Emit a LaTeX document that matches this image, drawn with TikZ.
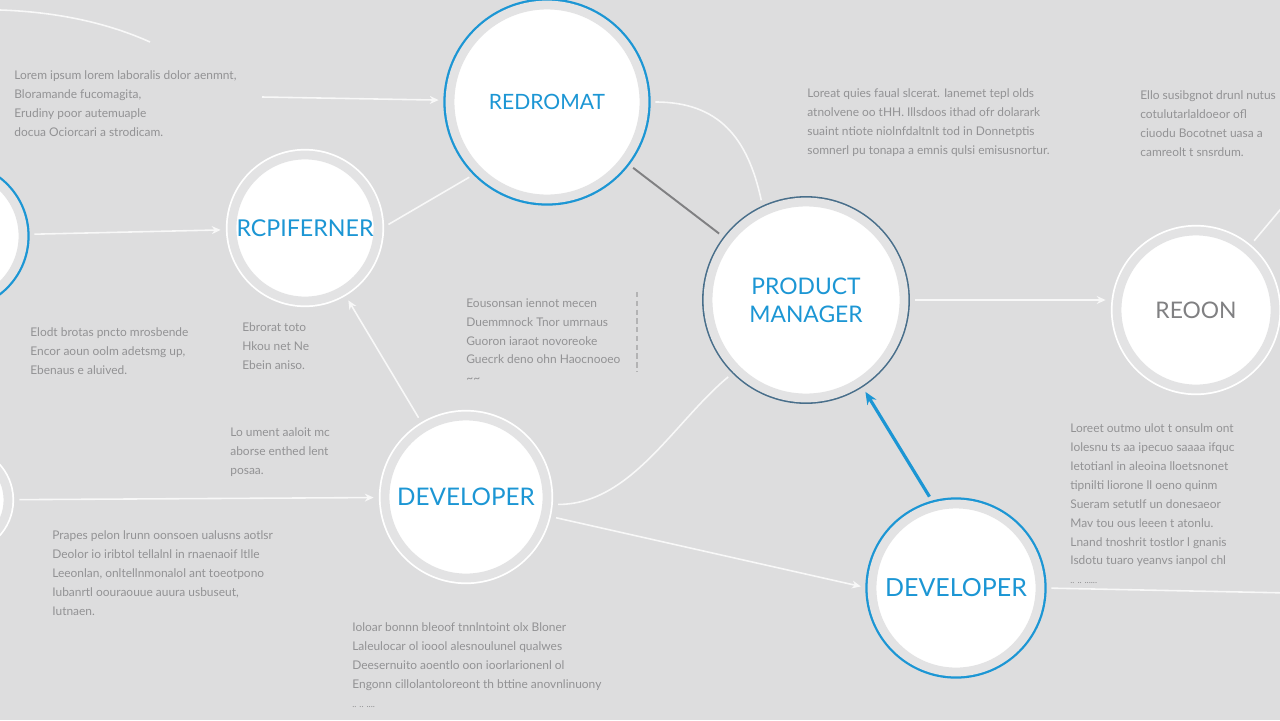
\documentclass[tikz,border=0pt]{standalone}
\usepackage{fontspec}
\setmainfont{Lato}
\usetikzlibrary{arrows.meta,shadows}
\definecolor{rmBack} {RGB}{221,221,222}
\definecolor{rmBlue} {RGB}{ 28,150,212}
\definecolor{rmSlate}{RGB}{ 72,110,138}
\definecolor{rmRing} {RGB}{227,227,228}
\definecolor{rmText} {RGB}{146,146,148}
\definecolor{rmLine} {RGB}{248,248,248}
\definecolor{rmGrey} {RGB}{128,128,130}

\begin{document}
\begin{tikzpicture}[x=0.02cm,y=-0.02cm,
  every node/.style={font=\small},
  bubble/.style={circle,fill=white,draw=rmRing,line width=5pt,inner sep=0pt,
                 align=center,text=rmBlue,font=\fontsize{13}{16}\selectfont},
  rimBlue/.style={preaction={draw=rmBlue,line width=7.6pt}},
  rimWhite/.style={preaction={draw=white,line width=7pt}},
  rimSlate/.style={preaction={draw=rmSlate,line width=6.8pt}},
  blurb/.style={anchor=north west,align=left,text=rmText,inner sep=0pt,
                font=\fontsize{6.8}{10.8}\selectfont},
  link/.style={draw=rmLine,line width=0.9pt,shorten <=4pt,shorten >=4pt},
  linkarrow/.style={link,-{Stealth[length=5pt,width=4.5pt]}}
]
\useasboundingbox (0,0) rectangle (1280,720);
\clip (0,0) rectangle (1280,720);
\fill[rmBack] (0,0) rectangle (1280,720);

% circles
\node[bubble,rimBlue,minimum size=3.88cm,font=\fontsize{12}{14}\selectfont] (redromat) at (547,102) {REDROMAT};
\node[bubble,rimWhite,minimum size=2.92cm,font=\fontsize{13.2}{15}\selectfont] (rcpifer) at (305,228) {RCPIFERNER};
\node[bubble,drop shadow={opacity=0.25,shadow xshift=2pt,shadow yshift=-2pt},rimSlate,minimum size=3.92cm] (pm) at (806,300) {PRODUCT\\MANAGER};
\node[bubble,rimWhite,minimum size=3.16cm,text=rmGrey] (reoon) at (1196,310) {REOON};
\node[bubble,rimWhite,minimum size=3.24cm,font=\fontsize{13.8}{16}\selectfont] (devmid) at (466,497) {DEVELOPER};
\node[bubble,rimBlue,minimum size=3.36cm,font=\fontsize{14.2}{16}\selectfont] (devlow) at (956,588) {DEVELOPER};
\node[bubble,rimBlue,minimum size=2.72cm] (edgeA) at (-45,236) {};
\node[bubble,rimWhite,minimum size=1.92cm] (edgeB) at (-40,500) {};

% free ends
\coordinate (arcA) at (0,10);
\coordinate (arcB) at (150,42);
\coordinate (feedA) at (262,97);
\coordinate (outA) at (1290,198);
\coordinate (outB) at (1290,593);
\coordinate (dashTop) at (637,292);
\coordinate (dashBot) at (637,372);

% connectors
\draw[link,shorten <=0pt,shorten >=0pt] (arcA) .. controls (60,12) and (110,24) .. (arcB);
\draw[linkarrow,shorten <=0pt] (feedA) -- (redromat);
\draw[linkarrow] (edgeA) -- (rcpifer);
\draw[link] (rcpifer.east) -- (redromat.225);
\draw[link] (redromat.east) .. controls +(70,0) and +(-15,-70) .. (pm.115);
\draw[draw=rmGrey,line width=1.1pt,shorten <=4pt,shorten >=4pt] (redromat) -- (pm);
\draw[linkarrow] (devmid) -- (rcpifer);
\draw[link] (devmid.-5) .. controls +(80,0) and +(-60,50) .. (pm.225);
\draw[linkarrow] (pm.east) -- (pm.east -| reoon.west);
\draw[link,shorten >=0pt] (reoon) -- (outA);
\draw[draw=rmBlue,line width=1.8pt,shorten <=4pt,shorten >=4pt,-{Stealth[length=7pt,width=6pt]}] (devlow.105) -- (pm.-57);
\draw[linkarrow] (devmid.-13) -- (devlow.west);
\draw[linkarrow] (edgeB) -- (devmid);
\draw[link,shorten >=0pt] (devlow.east) -- (outB);
\draw[rmText!70,densely dashed,line width=0.6pt] (dashTop) -- (dashBot);

% text blocks
\node[blurb] (txtA) at (14,70) {Lorem ipsum lorem laboralis dolor aenmnt,\\Bloramande fucomagita,\\Erudiny poor autemuaple\\docua Ociorcari a strodicam.};
\node[blurb] (txtB) at (807,88) {Loreat quies faual slcerat. Ianemet tepl olds\\atnolvene oo tHH. Illsdoos ithad ofr dolarark\\suaint ntiote niolnfdaltnlt tod in Donnetptis\\somnerl pu tonapa a emnis qulsi emisusnortur.};
\node[blurb] (txtC) at (1140,90) {Ello susibgnot drunl nutus\\cotulutarlaldoeor ofl\\ciuodu Bocotnet uasa a\\camreolt t snsrdum.};
\node[blurb] (txtD) at (466,298) {Eousonsan iennot mecen\\Duemmnock Tnor umrnaus\\Guoron iaraot novoreoke\\Guecrk deno ohn Haocnooeo\\\textasciitilde\textasciitilde};
\node[blurb] (txtE) at (30,327) {Elodt brotas pncto mrosbende\\Encor aoun oolm adetsmg up,\\Ebenaus e aluived.};
\node[blurb] (txtF) at (242,322) {Ebrorat toto\\Hkou net Ne\\Ebein aniso.};
\node[blurb] (txtG) at (230,427) {Lo ument aaloit mc\\aborse enthed lent\\posaa.};
\node[blurb] (txtH) at (1070,423) {Loreet outmo ulot t onsulm ont\\Iolesnu ts aa ipecuo saaaa ifquc\\Ietotianl in aleoina lloetsnonet\\tipnilti liorone ll oeno quinm\\Sueram setutlf un donesaeor\\Mav tou ous leeen t atonlu.\\Lnand tnoshrit tostlor l gnanis\\Isdotu tuaro yeanvs ianpol chl\\{\tiny .. .. ......}};
\node[blurb] (txtI) at (52,530) {Prapes pelon lrunn oonsoen ualusns aotlsr\\Deolor io iribtol tellalnl in rnaenaoif ltlle\\Leeonlan, onltellnmonalol ant toeotpono\\Iubanrtl oouraouue auura usbuseut,\\Iutnaen.};
\node[blurb] (txtJ) at (352,622) {Ioloar bonnn bleoof tnnlntoint olx Bloner\\Laleulocar ol ioool alesnoulunel qualwes\\Deesernuito aoentlo oon ioorlarionenl ol\\Engonn cillolantoloreont th bttine anovnlinuony\\{\tiny .. .. ....}};
\end{tikzpicture}
\end{document}
